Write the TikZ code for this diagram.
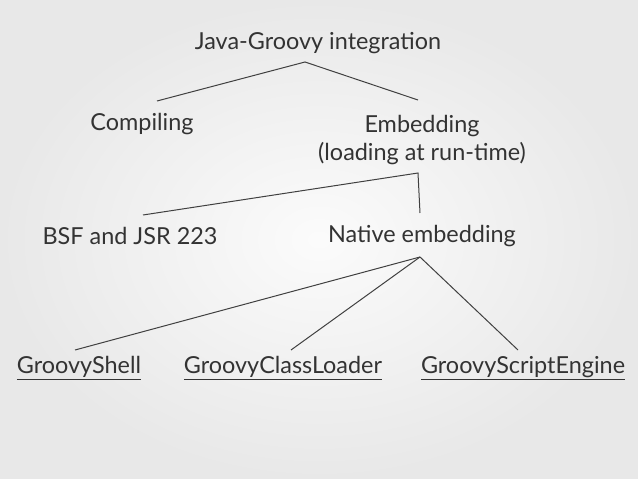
\documentclass[tikz,border=0pt]{standalone}
\usepackage{fontspec}
\setmainfont{Lato}
\begin{document}
\begin{tikzpicture}[x=1bp,y=-1bp,
  lbl/.style={font=\fontsize{23.5}{27}\selectfont, text=black!80, inner sep=1pt},
  con/.style={draw=black!75, line width=1bp}]
\shade[inner color=white!97!gray, outer color=black!9] (0,0) rectangle (638,479);
\useasboundingbox (0,0) rectangle (638,479);
\node[lbl] (root) at (318,43) {Java-Groovy integration};
\coordinate (r) at (305,62);
\node[lbl] (comp) at (142,124) {Compiling};
\node[lbl, align=center] (emb) at (422,140) {Embedding\\[1bp](loading at run-time)};
\coordinate (c1) at (157,101);
\coordinate (c2) at (418,100);
\draw[con] (c1) -- (r) -- (c2);
\coordinate (e) at (418,173);
\node[lbl] (bsf) at (130,236) {BSF and JSR 223};
\node[lbl] (nat) at (422,236) {Native embedding};
\coordinate (b1) at (143,215);
\coordinate (b2) at (420,213);
\draw[con] (b1) -- (e) -- (b2);
\coordinate (n) at (420,257);
\node[lbl] (gs) at (79,368) {\underline{GroovyShell}};
\node[lbl] (gcl) at (283,368) {\underline{GroovyClassLoader}};
\node[lbl] (gse) at (523,368) {\underline{GroovyScriptEngine}};
\coordinate (g1) at (75,350);
\coordinate (g2) at (291,350);
\coordinate (g3) at (518,350);
\draw[con] (n) -- (g1);
\draw[con] (n) -- (g2);
\draw[con] (n) -- (g3);
\end{tikzpicture}
\end{document}
